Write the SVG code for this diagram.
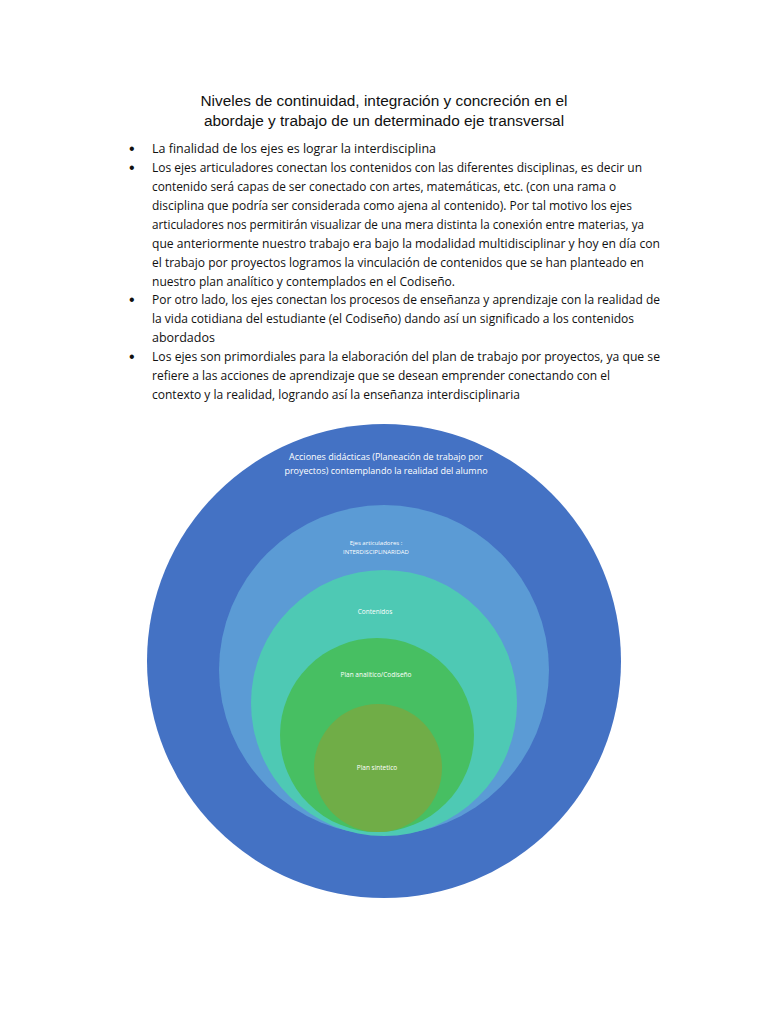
<svg xmlns="http://www.w3.org/2000/svg" width="768" height="1024" viewBox="0 0 768 1024">
<style>
.t{font-family:"Liberation Sans",Arial,sans-serif;font-size:15.4px;fill:#111;text-anchor:middle}
.b{font-family:"Open Sans","Liberation Sans",sans-serif;font-size:12.5px;fill:#111}
.d{font-family:"Liberation Sans",sans-serif;font-size:16px;fill:#111}
.c{font-family:"Open Sans","Liberation Sans",sans-serif;fill:#fff;text-anchor:middle}
</style>
<rect width="768" height="1024" fill="#fff"/>
<text class="t" x="384" y="106">Niveles de continuidad, integración y concreción en el</text>
<text class="t" x="384" y="126">abordaje y trabajo de un determinado eje transversal</text>
<g class="d">
<text x="129" y="154">•</text><text x="129" y="173">•</text><text x="129" y="305">•</text><text x="129" y="362">•</text>
</g>
<g class="b">
<text x="152" y="153">La finalidad de los ejes es lograr la interdisciplina</text>
<text x="152" y="172" textLength="490" lengthAdjust="spacingAndGlyphs">Los ejes articuladores conectan los contenidos con las diferentes disciplinas, es decir un</text>
<text x="152" y="191" textLength="464" lengthAdjust="spacingAndGlyphs">contenido será capas de ser conectado con artes, matemáticas, etc. (con una rama o</text>
<text x="152" y="210" textLength="480" lengthAdjust="spacingAndGlyphs">disciplina que podría ser considerada como ajena al contenido). Por tal motivo los ejes</text>
<text x="152" y="229" textLength="492" lengthAdjust="spacingAndGlyphs">articuladores nos permitirán visualizar de una mera distinta la conexión entre materias, ya</text>
<text x="152" y="248" textLength="508" lengthAdjust="spacingAndGlyphs">que anteriormente nuestro trabajo era bajo la modalidad multidisciplinar y hoy en día con</text>
<text x="152" y="267" textLength="492" lengthAdjust="spacingAndGlyphs">el trabajo por proyectos logramos la vinculación de contenidos que se han planteado en</text>
<text x="152" y="286" textLength="303" lengthAdjust="spacingAndGlyphs">nuestro plan analítico y contemplados en el Codiseño.</text>
<text x="152" y="304" textLength="508" lengthAdjust="spacingAndGlyphs">Por otro lado, los ejes conectan los procesos de enseñanza y aprendizaje con la realidad de</text>
<text x="152" y="323" textLength="482" lengthAdjust="spacingAndGlyphs">la vida cotidiana del estudiante (el Codiseño) dando así un significado a los contenidos</text>
<text x="152" y="342">abordados</text>
<text x="152" y="361" textLength="508" lengthAdjust="spacingAndGlyphs">Los ejes son primordiales para la elaboración del plan de trabajo por proyectos, ya que se</text>
<text x="152" y="380" textLength="458" lengthAdjust="spacingAndGlyphs">refiere a las acciones de aprendizaje que se desean emprender conectando con el</text>
<text x="152" y="399" textLength="368" lengthAdjust="spacingAndGlyphs">contexto y la realidad, logrando así la enseñanza interdisciplinaria</text>
</g>
<g id="n1"><circle cx="384" cy="661" r="237" fill="#4472c4"/>
<text class="c" font-size="9" x="386" y="460">Acciones didácticas (Planeación de trabajo por</text>
<text class="c" font-size="9" x="386" y="474">proyectos) contemplando la realidad del alumno</text></g>
<g id="n2"><circle cx="384" cy="670" r="165" fill="#5b9bd5"/>
<text class="c" font-size="6" x="376" y="545">Ejes articuladores :</text>
<text class="c" font-size="6" x="376" y="554">INTERDISCIPLINARIDAD</text></g>
<g id="n3"><circle cx="384" cy="703" r="133" fill="#4ec9b4"/>
<text class="c" font-size="6.5" x="375" y="614">Contenidos</text></g>
<g id="n4"><circle cx="377" cy="735" r="97" fill="#47bf62"/>
<text class="c" font-size="6.5" x="376" y="677">Plan analitico/Codiseño</text></g>
<g id="n5"><circle cx="378" cy="768" r="64" fill="#70ad47"/>
<text class="c" font-size="6.5" x="377" y="770">Plan sintetico</text></g>
</svg>
